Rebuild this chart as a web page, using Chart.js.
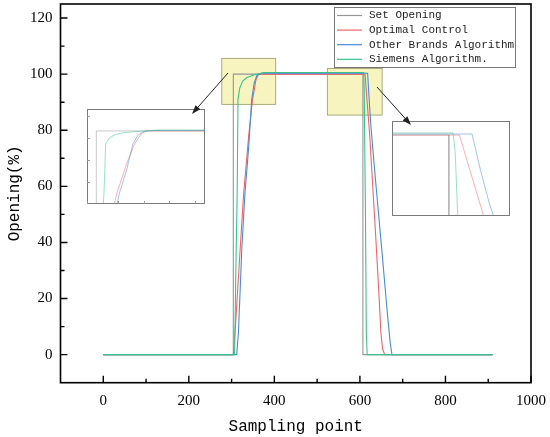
<!DOCTYPE html>
<html lang="en">
<head>
    <meta charset="UTF-8">
    <title>Opening vs Sampling point</title>
    <script src="https://cdn.jsdelivr.net/npm/chart.js"></script>
    <style>
    body { margin: 0; background: #fff; }
    #wrap { position: relative; width: 550px; height: 437px; }
    canvas { position: absolute; }
    #mainChart { left: 0; top: 0; z-index: 2; }
    #inset1 { left: 87px; top: 109px; z-index: 1; }
    #inset2 { left: 392px; top: 121px; z-index: 1; }
    </style>
</head>
<body>
    <div id="wrap">
    <canvas id="inset1" width="118" height="95"></canvas>
    <canvas id="inset2" width="118" height="95"></canvas>
    <canvas id="mainChart" width="550" height="437"></canvas>
    </div>

    <script>
    // series (sampling point -> opening %)
    const setX = [0, 304, 304, 607, 607, 910];
    const setY = [0, 0, 100, 100, 0, 0];
    const optX = [0, 304, 309, 319, 328, 340, 349, 357, 363, 612, 617, 623, 630, 637, 644, 649, 653, 658, 910];
    const optY = [0, 0, 10, 35, 57, 78, 91, 98, 100, 100, 90, 78, 60, 42, 23, 8, 2, 0, 0];
    const othX = [0, 312, 316, 324, 331, 340, 347, 353, 359, 370, 618, 622, 626, 632, 639, 652, 664, 671, 675, 910];
    const othY = [0, 0, 8, 38, 57, 74, 91, 97, 99.5, 100.3, 100.3, 90, 81, 70, 58, 36, 15, 4, 0, 0];
    const sieX = [0, 307, 310, 313, 315, 319, 326, 335, 350, 375, 609, 610, 613, 615, 617, 910];
    const sieY = [0, 0, 30, 57, 91, 95, 97.5, 98.7, 99.6, 100.6, 100.6, 95, 50, 8, 0, 0];

    const seriesNames = ['Set Opening', 'Optimal Control', 'Other Brands Algorithm', 'Siemens Algorithm.'];
    const seriesRGB = ['150,150,150', '240,100,104', '70,140,214', '56,196,140'];
    const seriesX = [setX, optX, othX, sieX];
    const seriesY = [setY, optY, othY, sieY];

    const xTicks = [0, 200, 400, 600, 800, 1000];
    const xMinor = [100, 300, 500, 700, 900];
    const yTicks = [0, 20, 40, 60, 80, 100, 120];
    const yMinor = [10, 30, 50, 70, 90, 110];

    // highlighted regions (data units) and the inset views of them
    const zoomBoxes = [
        { x0: 277, x1: 403, y0: 89.2, y1: 105.6 },
        { x0: 524, x1: 652, y0: 85.4, y1: 102 }
    ];
    const inset1Range = { x: [293, 432], y: [50, 115] };
    const inset2Range = { x: [580, 636], y: [77, 104] };

    Chart.defaults.font.family = '"Liberation Serif", serif';
    Chart.defaults.color = '#000';

    function buildSets(alpha, width) {
        return seriesNames.map((name, i) => ({
        label: name,
        data: seriesX[i].map((v, j) => ({ x: v, y: seriesY[i][j] })),
        borderColor: 'rgba(' + seriesRGB[i] + ',' + alpha + ')',
        borderWidth: width,
        pointRadius: 0,
        tension: 0,
        fill: false,
        order: 4 - i
        }));
    }

    function arrow(ctx, x1, y1, x2, y2) {
        const ang = Math.atan2(y2 - y1, x2 - x1);
        const L = 9, W = 3.2;
        ctx.beginPath();
        ctx.moveTo(x1, y1);
        ctx.lineTo(x2 - 4 * Math.cos(ang), y2 - 4 * Math.sin(ang));
        ctx.stroke();
        ctx.beginPath();
        ctx.moveTo(x2, y2);
        ctx.lineTo(x2 - L * Math.cos(ang) + W * Math.sin(ang), y2 - L * Math.sin(ang) - W * Math.cos(ang));
        ctx.lineTo(x2 - L * Math.cos(ang) - W * Math.sin(ang), y2 - L * Math.sin(ang) + W * Math.cos(ang));
        ctx.closePath();
        ctx.fill();
    }

    const mainDecor = {
        id: 'mainDecor',
        beforeDatasetsDraw(chart) {
        const { ctx, scales: { x, y } } = chart;
        ctx.save();
        zoomBoxes.forEach(b => {
            const l = x.getPixelForValue(b.x0), r = x.getPixelForValue(b.x1);
            const t = y.getPixelForValue(b.y1), bt = y.getPixelForValue(b.y0);
            ctx.fillStyle = 'rgba(240,234,130,0.5)';
            ctx.fillRect(l, t, r - l, bt - t);
            ctx.strokeStyle = 'rgba(150,150,100,0.8)';
            ctx.lineWidth = 1;
            ctx.strokeRect(l, t, r - l, bt - t);
        });
        ctx.restore();
        },
        afterDraw(chart) {
        const { ctx, chartArea: a, scales: { x, y } } = chart;
        ctx.save();
        ctx.strokeStyle = '#000';
        ctx.lineWidth = 1.6;
        ctx.strokeRect(a.left, a.top, a.right - a.left, a.bottom - a.top);

        // inward ticks
        ctx.lineWidth = 1.4;
        ctx.beginPath();
        xTicks.forEach(v => { const p = x.getPixelForValue(v); ctx.moveTo(p, a.bottom); ctx.lineTo(p, a.bottom - 7); });
        xMinor.forEach(v => { const p = x.getPixelForValue(v); ctx.moveTo(p, a.bottom); ctx.lineTo(p, a.bottom - 4); });
        yTicks.forEach(v => { const p = y.getPixelForValue(v); ctx.moveTo(a.left, p); ctx.lineTo(a.left + 7, p); });
        yMinor.forEach(v => { const p = y.getPixelForValue(v); ctx.moveTo(a.left, p); ctx.lineTo(a.left + 4, p); });
        ctx.stroke();

        // legend
        ctx.fillStyle = '#fff';
        ctx.fillRect(334.5, 7.5, 181, 60);
        ctx.strokeStyle = '#777';
        ctx.lineWidth = 1;
        ctx.strokeRect(334.5, 7.5, 181, 60);
        ctx.font = '11px "Liberation Mono", monospace';
        ctx.textBaseline = 'middle';
        seriesNames.forEach((name, i) => {
            const ry = 15.5 + i * 14.6;
            ctx.strokeStyle = 'rgb(' + seriesRGB[i] + ')';
            ctx.lineWidth = 1.2;
            ctx.beginPath();
            ctx.moveTo(337, ry);
            ctx.lineTo(362, ry);
            ctx.stroke();
            ctx.fillStyle = '#222';
            ctx.fillText(name, 369, ry);
        });

        // arrows to insets
        ctx.strokeStyle = '#222';
        ctx.fillStyle = '#222';
        ctx.lineWidth = 1;
        arrow(ctx, 228, 73, 192, 114);
        arrow(ctx, 377, 87, 411, 125);
        ctx.restore();
        }
    };

    new Chart(document.getElementById('mainChart'), {
        type: 'line',
        data: { datasets: buildSets(1, 1.1) },
        options: {
        responsive: false,
        animation: false,
        events: [],
        layout: { padding: { top: 4, right: 19, left: 0, bottom: 0 } },
        plugins: { legend: { display: false }, tooltip: { enabled: false } },
        scales: {
            x: {
            type: 'linear',
            min: -100,
            max: 1000,
            afterBuildTicks: s => { s.ticks = xTicks.map(v => ({ value: v })); },
            afterFit: s => { s.height = 54.3; s.paddingLeft = 0; s.paddingRight = 0; },
            ticks: { font: { size: 15 }, padding: 9, maxRotation: 0, autoSkip: false, callback: v => String(v) },
            grid: { display: false, drawTicks: false },
            border: { display: false },
            title: {
                display: true,
                text: 'Sampling point',
                font: { family: '"Liberation Mono", monospace', size: 16 },
                padding: { top: 0, bottom: 1 }
            }
            },
            y: {
            min: -10,
            max: 125,
            afterBuildTicks: s => { s.ticks = yTicks.map(v => ({ value: v })); },
            afterFit: s => { s.width = 60.5; s.paddingTop = 0; s.paddingBottom = 0; },
            ticks: { font: { size: 15 }, padding: 8, callback: v => String(v) },
            grid: { display: false, drawTicks: false },
            border: { display: false },
            title: {
                display: true,
                text: 'Opening(%)',
                font: { family: '"Liberation Mono", monospace', size: 16 },
                padding: { top: 5, bottom: 0 }
            }
            }
        }
        },
        plugins: [mainDecor]
    });

    function insetDecor(withTicks) {
        return {
        id: 'insetDecor',
        beforeDraw(chart) {
            const { ctx, width, height } = chart;
            ctx.save();
            ctx.fillStyle = '#fff';
            ctx.fillRect(0, 0, width, height);
            ctx.restore();
        },
        afterDraw(chart) {
            const { ctx, chartArea: a, scales: { x, y } } = chart;
            ctx.save();
            ctx.strokeStyle = '#7a7a7a';
            ctx.lineWidth = 1;
            ctx.strokeRect(a.left + 0.5, a.top + 0.5, a.right - a.left - 1, a.bottom - a.top - 1);
            if (withTicks) {
            ctx.strokeStyle = '#999';
            ctx.beginPath();
            x.ticks.forEach(t => { const p = Math.round(x.getPixelForValue(t.value)) + 0.5; ctx.moveTo(p, a.bottom); ctx.lineTo(p, a.bottom - 3); });
            y.ticks.forEach(t => { const p = Math.round(y.getPixelForValue(t.value)) + 0.5; ctx.moveTo(a.left, p); ctx.lineTo(a.left + 3, p); });
            ctx.stroke();
            }
            ctx.restore();
        }
        };
    }

    function makeInset(id, range, xStep, yStep, withTicks) {
        return new Chart(document.getElementById(id), {
        type: 'line',
        data: { datasets: buildSets(0.5, 1) },
        options: {
            responsive: false,
            animation: false,
            events: [],
            layout: { padding: 0 },
            plugins: { legend: { display: false }, tooltip: { enabled: false } },
            scales: {
            x: { type: 'linear', min: range.x[0], max: range.x[1], display: false, ticks: { stepSize: xStep } },
            y: { min: range.y[0], max: range.y[1], display: false, ticks: { stepSize: yStep } }
            }
        },
        plugins: [insetDecor(withTicks)]
        });
    }

    makeInset('inset1', inset1Range, 10, 5, true);
    makeInset('inset2', inset2Range, 10, 5, false);
    </script>
</body>
</html>
